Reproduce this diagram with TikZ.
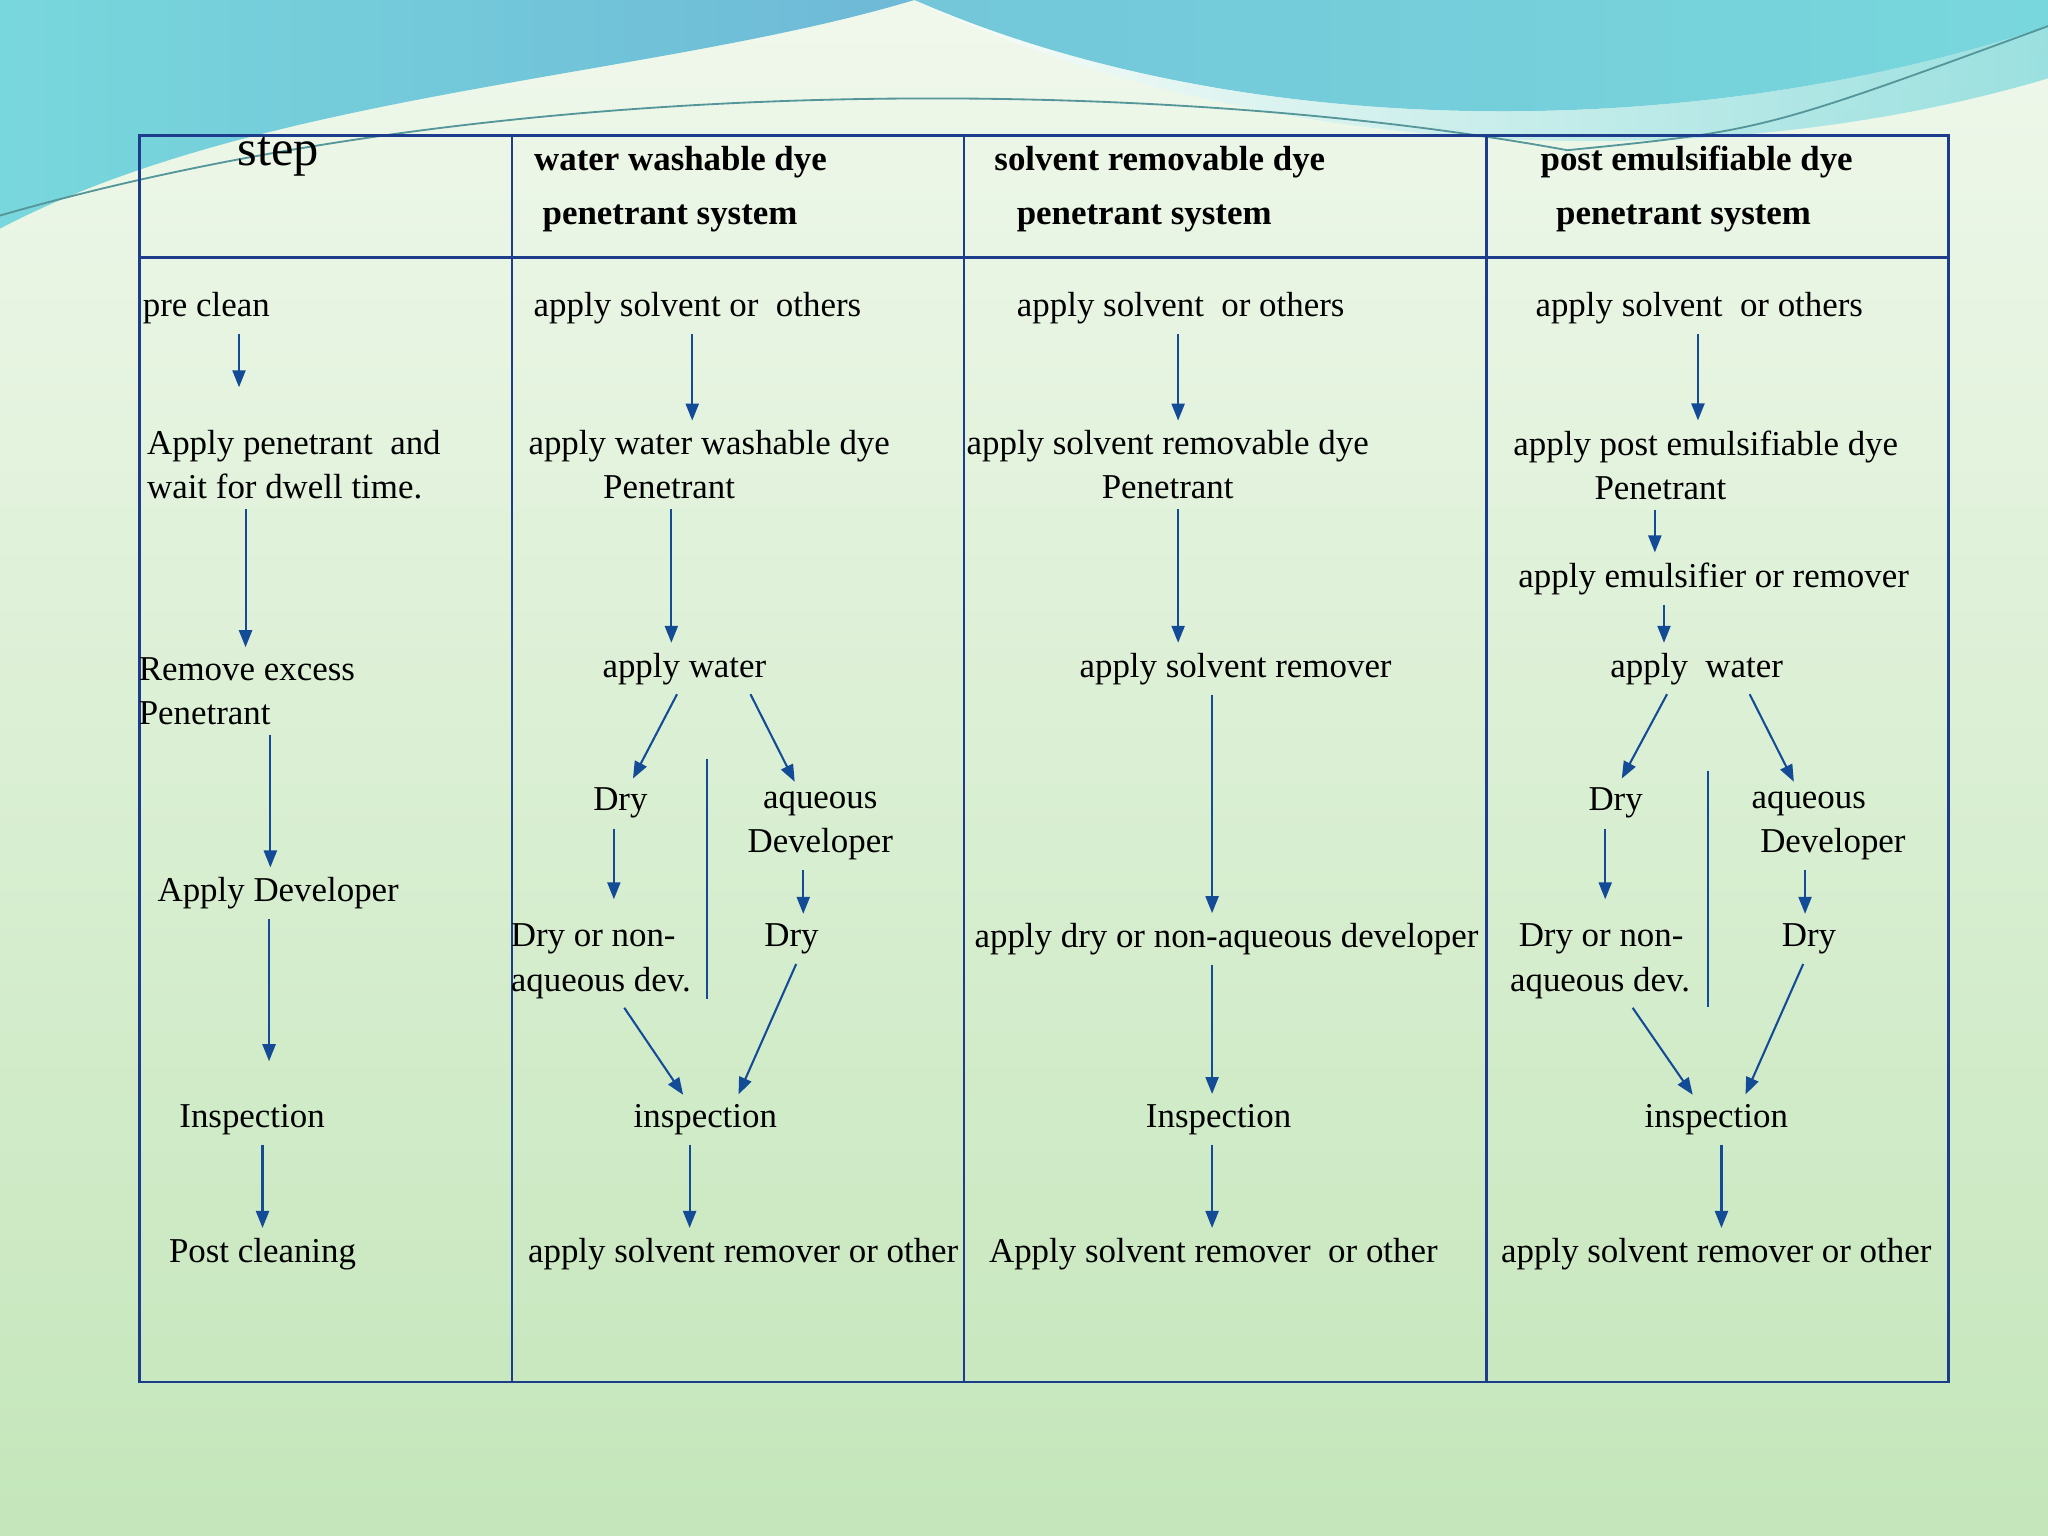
\documentclass[tikz,border=0pt]{standalone}
\usepackage{fontspec}
\setmainfont{Liberation Serif}
\usetikzlibrary{arrows.meta}
\newcommand{\px}{0.1mm}
\begin{document}
\begin{tikzpicture}[x=0.1mm,y=-0.1mm,
  every node/.style={font=\fontsize{7.6}{9.6}\selectfont,inner sep=1pt},
  head/.style={font=\fontsize{7.6}{12}\selectfont\bfseries},
  lft/.style={align=left},
  ctr/.style={align=center},
  arr/.style={draw=arrowblue,line width=0.45pt,-{Triangle[length=1.3mm,width=1mm]},shorten <=1pt,shorten >=1pt},
  grid/.style={draw=lineblue,line width=0.6pt}]

% Define colours
\definecolor{lineblue}{RGB}{30,60,140}
\definecolor{arrowblue}{RGB}{20,75,150}
\definecolor{bgtop}{RGB}{240,248,236}
\definecolor{bgbot}{RGB}{196,230,186}
\definecolor{wavea}{RGB}{110,185,215}
\definecolor{waveb}{RGB}{120,215,220}

% background
\useasboundingbox (0,0) rectangle (1568,1176);
\shade[top color=bgtop,bottom color=bgbot] (0,0) rectangle (1568,1176);
\shade[left color=wavea,right color=waveb] (0,0) -- (1568,0) -- (1568,20)
  .. controls (1300,110) and (950,110) .. (700,0) -- cycle;
\shade[left color=waveb,right color=wavea] (0,0) -- (700,0)
  .. controls (500,60) and (200,70) .. (0,175) -- cycle;
\shade[left color=white,right color=waveb,opacity=0.7] (700,0)
  .. controls (950,110) and (1300,110) .. (1568,20) -- (1568,60)
  .. controls (1300,140) and (950,120) .. (700,0);
\draw[waveb!70!black,line width=0.4pt] (0,165) .. controls (400,50) and (900,60) .. (1200,115) .. controls (1350,100) .. (1568,20);

% table
\draw[grid] (107,104) rectangle (1492,1058);
\draw[grid] (107,197) -- (1492,197);
\foreach \x in {392,738,1138} \draw[grid] (\x,104) -- (\x,1058);

% headers
\node[font=\fontsize{11}{13}\selectfont] (hstep) at (213,120) {step};
\node[head] (hw1) at (521,124) {water washable dye};
\node[head] (hw2) at (513,167) {penetrant system};
\node[head] (hs1) at (888,124) {solvent removable dye};
\node[head] (hs2) at (876,167) {penetrant system};
\node[head] (hp1) at (1299,124) {post emulsifiable dye};
\node[head] (hp2) at (1289,167) {penetrant system};

% step column
\node (pc) at (158,236) {pre clean};
\node[lft] (ap) at (225,356) {Apply penetrant\ \ and\\ wait for dwell time.};
\node[lft] (re) at (189,529) {Remove excess\\Penetrant};
\node (ad) at (213,684) {Apply Developer};
\node (in1) at (193,857) {Inspection};
\node (pcl) at (201,960) {Post cleaning};
\draw[arr] ([xshift=25*\px]pc.south) -- ([xshift=25*\px]pc.south |- 0,300);
\draw[arr] ([xshift=-37*\px]ap.south) -- ([xshift=-37*\px]ap.south |- re.north);
\draw[arr] ([xshift=18*\px]re.south) -- ([xshift=18*\px]re.south |- ad.north);
\draw[arr] ([xshift=-7*\px]ad.south) -- ([xshift=-7*\px]ad.south |- 0,816);
\draw[arr] ([xshift=8*\px]in1.south) -- ([xshift=8*\px]in1.south |- pcl.north);

% water washable
\node (w1) at (534,236) {apply solvent or\ \ others};
\node[ctr] (w2) at (543,356) {apply water washable dye\\\hspace*{-2.3em}Penetrant};
\node (w3) at (524,512) {apply water};
\node (w4) at (475,615) {Dry};
\node[ctr] (w5) at (628,632) {aqueous\\Developer};
\node[lft] (w6) at (460,736) {Dry or non-\\aqueous dev.};
\node (w7) at (606,719) {Dry};
\node (w8) at (540,857) {inspection};
\node (w9) at (569,960) {apply solvent remover or other};
\draw[arrowblue,line width=0.45pt] (541,581) -- (541,765);
\draw[arr] ([xshift=-4*\px]w1.south) -- ([xshift=-4*\px]w1.south |- w2.north);
\draw[arr] ([xshift=-10*\px]w3.north |- w2.south) -- ([xshift=-10*\px]w3.north);
\draw[arr] ([xshift=-4*\px]w3.south) -- ([xshift=8*\px]w4.north);
\draw[arr] ([xshift=49*\px]w3.south) -- ([xshift=-18*\px]w5.north);
\draw[arr] ([xshift=-5*\px]w4.south) -- ([xshift=-5*\px]w4.south |- 0,692);
\draw[arr] ([xshift=-13*\px]w5.south) -- ([xshift=-13*\px]w5.south |- w7.north);
\draw[arr] ([xshift=16*\px]w6.south) -- ([xshift=-15*\px]w8.north);
\draw[arr] ([xshift=5*\px]w7.south) -- ([xshift=24*\px]w8.north);
\draw[arr] ([xshift=-12*\px]w8.south) -- ([xshift=-12*\px]w8.south |- w9.north);

% solvent removable
\node (s1) at (904,236) {apply solvent\ \ or others};
\node[ctr] (s2) at (894,356) {apply solvent removable dye\\Penetrant};
\node (s3) at (946,512) {apply solvent remover};
\node (s4) at (939,719) {apply dry or non-aqueous developer};
\node (s5) at (933,857) {Inspection};
\node (s6) at (929,960) {Apply solvent remover\ \ or other};
\draw[arr] ([xshift=-2*\px]s1.south) -- ([xshift=-2*\px]s1.south |- s2.north);
\draw[arr] ([xshift=8*\px]s2.south) -- ([xshift=8*\px]s2.south |- s3.north);
\draw[arr] ([xshift=-18*\px]s3.south) -- ([xshift=-18*\px]s3.south |- s4.north);
\draw[arr] ([xshift=-11*\px]s4.south) -- ([xshift=-11*\px]s4.south |- s5.north);
\draw[arr] ([xshift=-5*\px]s5.south) -- ([xshift=-5*\px]s5.south |- s6.north);

% post emulsifiable
\node (p1) at (1301,236) {apply solvent\ \ or others};
\node[ctr] (p2) at (1306,356) {apply post emulsifiable dye\\\hspace*{-2.6em}Penetrant};
\node (p3) at (1312,443) {apply emulsifier or remover};
\node (p4) at (1299,512) {apply\ \ water};
\node (p5) at (1237,615) {Dry};
\node[lft] (p6) at (1400,632) {aqueous\\\ Developer};
\node[lft] (p7) at (1225,736) {\ Dry or non-\\aqueous dev.};
\node (p8) at (1385,719) {Dry};
\node (p9) at (1314,857) {inspection};
\node (p10) at (1314,960) {apply solvent remover or other};
\draw[arrowblue,line width=0.45pt] (1308,590) -- (1308,771);
\draw[arr] ([xshift=-1*\px]p1.south) -- ([xshift=-1*\px]p1.south |- p2.north);
\draw[arr] ([xshift=-39*\px]p2.south) -- ([xshift=-39*\px]p2.south |- p3.north);
\draw[arr] ([xshift=-38*\px]p3.south) -- ([xshift=-38*\px]p3.south |- p4.north);
\draw[arr] ([xshift=-21*\px]p4.south) -- ([xshift=3*\px]p5.north);
\draw[arr] ([xshift=39*\px]p4.south) -- ([xshift=-25*\px]p6.north);
\draw[arr] ([xshift=-8*\px]p5.south) -- ([xshift=-8*\px]p5.south |- 0,692);
\draw[arr] ([xshift=-18*\px]p6.south) -- ([xshift=-18*\px]p6.south |- p8.north);
\draw[arr] ([xshift=23*\px]p7.south) -- ([xshift=-16*\px]p9.north);
\draw[arr] ([xshift=-3*\px]p8.south) -- ([xshift=21*\px]p9.north);
\draw[arr] ([xshift=4*\px]p9.south) -- ([xshift=4*\px]p9.south |- p10.north);
\end{tikzpicture}
\end{document}
